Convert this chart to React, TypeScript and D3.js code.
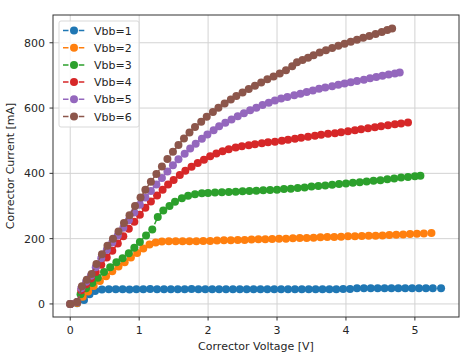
import React from "react";
import * as d3 from "d3";

const seriesNames = ["Vbb=1", "Vbb=2", "Vbb=3", "Vbb=4", "Vbb=5", "Vbb=6"];
const colors = ["#1f77b4", "#ff7f0e", "#2ca02c", "#d62728", "#9467bd", "#8c564b"];
const xTicks = [0, 1, 2, 3, 4, 5];
const yTicks = [0, 200, 400, 600, 800];

const vbb1: [number, number][] = [[0,0],[0.1,2],[0.2,12],[0.28,30],[0.36,40],[0.46,44],[0.56,45],[0.66,45],[0.76,45],[0.86,44],[0.96,45],[1.06,45],[1.16,46],[1.26,45],[1.36,45],[1.46,45],[1.56,45],[1.66,45],[1.76,46],[1.86,45],[1.96,45],[2.06,45],[2.16,45],[2.26,45],[2.36,45],[2.46,45],[2.56,45],[2.66,45],[2.76,45],[2.86,45],[2.96,45],[3.06,45],[3.16,45],[3.26,45],[3.36,45],[3.46,45],[3.56,45],[3.66,45],[3.76,45],[3.86,45],[3.96,46],[4.06,46],[4.16,48],[4.26,48],[4.36,48],[4.46,48],[4.56,48],[4.66,48],[4.76,48],[4.86,48],[4.96,48],[5.06,48],[5.16,48],[5.26,48],[5.38,48]];
const vbb2: [number, number][] = [[0,0],[0.1,3],[0.18,22],[0.26,38],[0.34,55],[0.43,70],[0.52,85],[0.61,100],[0.7,115],[0.79,128],[0.88,142],[0.97,156],[1.06,170],[1.15,182],[1.24,188],[1.33,191],[1.43,192],[1.53,192],[1.63,192],[1.73,192],[1.83,192],[1.93,193],[2.03,193],[2.13,194],[2.23,195],[2.33,195],[2.43,196],[2.53,196],[2.63,197],[2.73,198],[2.83,198],[2.93,199],[3.03,200],[3.13,200],[3.23,201],[3.33,202],[3.43,202],[3.53,203],[3.63,204],[3.73,205],[3.83,205],[3.93,206],[4.03,207],[4.13,207],[4.23,208],[4.33,209],[4.43,209],[4.53,210],[4.63,211],[4.73,212],[4.83,213],[4.93,214],[5.03,215],[5.13,216],[5.24,217]];
const vbb3: [number, number][] = [[0,0],[0.1,5],[0.15,30],[0.23,48],[0.32,64],[0.4,80],[0.49,98],[0.58,112],[0.67,128],[0.76,140],[0.85,155],[0.93,172],[1.01,190],[1.1,210],[1.19,228],[1.27,266],[1.35,286],[1.44,300],[1.52,313],[1.62,324],[1.71,331],[1.81,336],[1.91,339],[2.0,340],[2.1,341],[2.2,342],[2.3,343],[2.4,344],[2.5,345],[2.6,346],[2.7,347],[2.8,348],[2.9,349],[3.0,350],[3.1,352],[3.2,353],[3.3,355],[3.4,357],[3.5,360],[3.6,361],[3.7,363],[3.8,365],[3.9,367],[4.0,369],[4.1,371],[4.2,373],[4.3,375],[4.4,377],[4.5,379],[4.6,382],[4.7,384],[4.8,387],[4.9,389],[5.0,391],[5.08,393]];
const vbb4: [number, number][] = [[0,0],[0.1,5],[0.16,42],[0.23,60],[0.3,78],[0.37,98],[0.45,120],[0.53,142],[0.61,163],[0.69,185],[0.77,207],[0.85,230],[0.93,252],[1.01,273],[1.09,295],[1.17,314],[1.26,332],[1.34,350],[1.42,366],[1.5,380],[1.59,395],[1.67,408],[1.76,420],[1.85,432],[1.94,442],[2.03,452],[2.12,461],[2.21,468],[2.3,474],[2.4,479],[2.49,483],[2.59,486],[2.68,489],[2.78,492],[2.87,495],[2.97,497],[3.07,500],[3.16,503],[3.26,506],[3.35,509],[3.45,512],[3.55,515],[3.64,518],[3.74,521],[3.84,523],[3.93,526],[4.03,529],[4.13,532],[4.22,535],[4.32,538],[4.42,541],[4.51,544],[4.61,547],[4.71,550],[4.8,553],[4.9,556]];
const vbb5: [number, number][] = [[0,0],[0.1,6],[0.16,48],[0.23,68],[0.3,86],[0.37,112],[0.45,140],[0.53,165],[0.61,188],[0.69,210],[0.77,233],[0.85,256],[0.93,280],[1.01,304],[1.09,326],[1.17,346],[1.25,366],[1.33,386],[1.41,406],[1.49,425],[1.57,443],[1.66,460],[1.74,476],[1.82,491],[1.91,506],[1.99,519],[2.08,532],[2.16,544],[2.25,555],[2.34,565],[2.43,575],[2.52,584],[2.61,593],[2.7,601],[2.79,609],[2.88,616],[2.97,623],[3.06,629],[3.15,634],[3.25,639],[3.34,644],[3.43,649],[3.52,654],[3.61,659],[3.7,663],[3.8,667],[3.89,671],[3.98,675],[4.07,679],[4.16,683],[4.26,687],[4.35,691],[4.44,695],[4.53,699],[4.62,703],[4.71,706],[4.78,709]];
const vbb6: [number, number][] = [[0,0],[0.1,6],[0.17,54],[0.24,74],[0.31,92],[0.38,122],[0.46,152],[0.54,178],[0.62,200],[0.7,222],[0.78,248],[0.86,272],[0.94,300],[1.02,326],[1.09,350],[1.17,374],[1.25,398],[1.33,421],[1.41,444],[1.49,466],[1.57,487],[1.65,507],[1.73,525],[1.81,542],[1.9,558],[1.98,573],[2.07,588],[2.15,601],[2.24,614],[2.33,626],[2.41,637],[2.5,648],[2.59,658],[2.68,668],[2.77,678],[2.86,688],[2.95,697],[3.04,706],[3.13,716],[3.22,728],[3.29,740],[3.37,747],[3.45,754],[3.53,762],[3.62,770],[3.71,777],[3.8,784],[3.89,791],[3.98,797],[4.07,803],[4.16,809],[4.25,815],[4.34,821],[4.43,827],[4.52,833],[4.6,839],[4.67,844]];

const allSeries = [vbb1, vbb2, vbb3, vbb4, vbb5, vbb6];

const W = 474, H = 356;
const L = 53, R = 459, T = 15, B = 317;
const FONT = "DejaVu Sans, sans-serif";
const FS = 11;

export default function App() {
  const x = d3.scaleLinear().domain([-0.25, 5.64]).range([L, R]);
  const y = d3.scaleLinear().domain([-40, 885]).range([B, T]);
  const line = d3.line<[number, number]>().x(d => x(d[0])).y(d => y(d[1]));

  return (
    <svg width={W} height={H} style={{ position: "absolute", left: 0, top: 0 }}>
      <rect x={0} y={0} width={W} height={H} fill="#fff" />
      <defs>
        <clipPath id="plotclip"><rect x={L} y={T} width={R - L} height={B - T} /></clipPath>
      </defs>
      {xTicks.map(t => (
        <line key={"gx" + t} x1={x(t)} x2={x(t)} y1={T} y2={B} stroke="#d3d3d3" strokeWidth={1} />
      ))}
      {yTicks.map(t => (
        <line key={"gy" + t} x1={L} x2={R} y1={y(t)} y2={y(t)} stroke="#d3d3d3" strokeWidth={1} />
      ))}
      <g clipPath="url(#plotclip)">
        {allSeries.map((s, i) => (
          <g key={"s" + i}>
            <path d={line(s) || ""} fill="none" stroke={colors[i]} strokeWidth={1.5} strokeDasharray="5.5,2.4" />
            {s.map((d, j) => (
              <circle key={j} cx={x(d[0])} cy={y(d[1])} r={4} fill={colors[i]} />
            ))}
          </g>
        ))}
      </g>
      <rect x={L} y={T} width={R - L} height={B - T} fill="none" stroke="#333" strokeWidth={1} />
      {xTicks.map(t => (
        <g key={"tx" + t}>
          <line x1={x(t)} x2={x(t)} y1={B} y2={B + 3.5} stroke="#333" />
          <text x={x(t)} y={B + 17} textAnchor="middle" fontFamily={FONT} fontSize={FS} fill="#262626">{t}</text>
        </g>
      ))}
      {yTicks.map(t => (
        <g key={"ty" + t}>
          <line x1={L - 3.5} x2={L} y1={y(t)} y2={y(t)} stroke="#333" />
          <text x={L - 8} y={y(t) + 4} textAnchor="end" fontFamily={FONT} fontSize={FS} fill="#262626">{t}</text>
        </g>
      ))}
      <text x={256} y={350} textAnchor="middle" fontFamily={FONT} fontSize={FS} fill="#262626">Corrector Voltage [V]</text>
      <text transform={`translate(14,${(T + B) / 2}) rotate(-90)`} textAnchor="middle" fontFamily={FONT} fontSize={FS} fill="#262626">Corrector Current [mA]</text>
      <rect x={59} y={21} width={80} height={106} rx={2} fill="#fff" fillOpacity={0.8} stroke="#d9d9d9" strokeWidth={1} />
      {seriesNames.map((n, i) => {
        const ly = 30.5 + i * 17.2;
        return (
          <g key={"lg" + i}>
            <line x1={63} x2={85} y1={ly} y2={ly} stroke={colors[i]} strokeWidth={1.5} strokeDasharray="5.5,2.4" />
            <circle cx={74} cy={ly} r={4} fill={colors[i]} />
            <text x={94} y={ly + 4} fontFamily={FONT} fontSize={FS} fill="#262626">{n}</text>
          </g>
        );
      })}
    </svg>
  );
}
